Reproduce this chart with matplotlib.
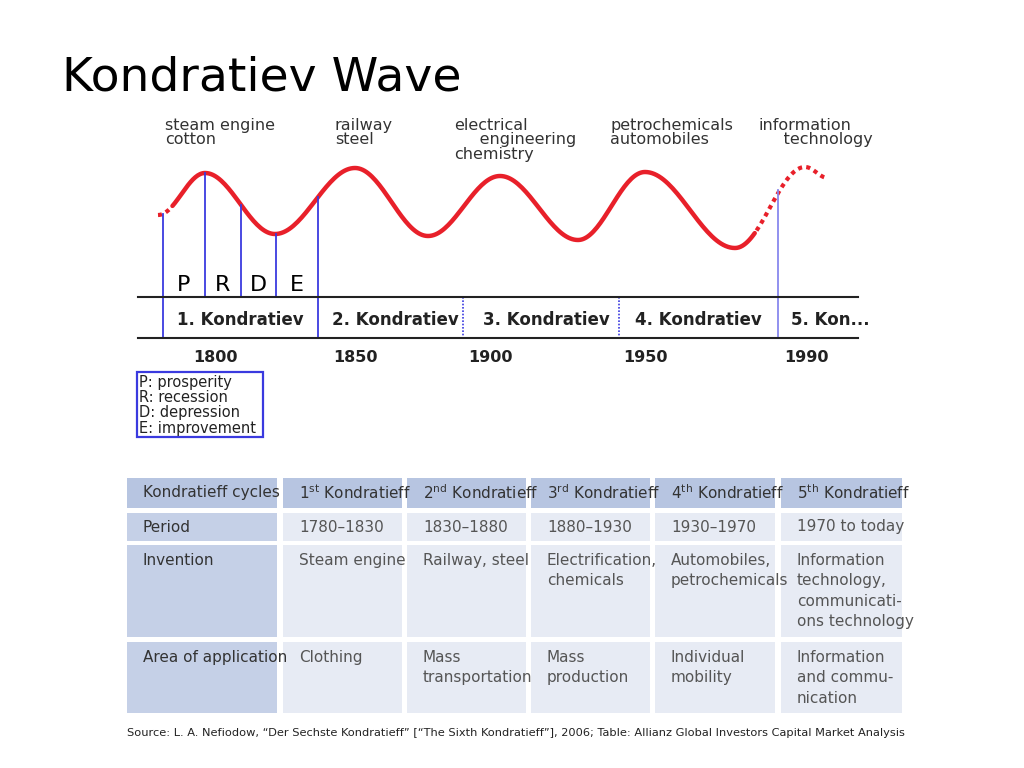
import matplotlib
matplotlib.use("Agg")
import matplotlib.pyplot as plt
import numpy as np
from matplotlib.patches import Rectangle

# ---- data ----
wave_nodes_x = [158, 205, 275, 355, 428, 500, 578, 645, 735, 805, 828]
wave_nodes_y = [215, 173, 234, 168, 236, 176, 240, 172, 248, 167, 178]
phase_lines_x = [163, 205, 241, 276, 318]
phase_letters = ["P", "R", "D", "E"]
cycle_labels = ["1. Kondratiev", "2. Kondratiev", "3. Kondratiev", "4. Kondratiev", "5. Kon..."]
years = ["1800", "1850", "1900", "1950", "1990"]
innovations = ["steam engine\ncotton", "railway\nsteel", "electrical\n     engineering\nchemistry",
               "petrochemicals\nautomobiles", "information\n     technology"]
legend_lines = ["P: prosperity", "R: recession", "D: depression", "E: improvement"]
table_header = ["Kondratieff cycles", "1st Kondratieff", "2nd Kondratieff", "3rd Kondratieff",
                "4th Kondratieff", "5th Kondratieff"]
table_rows = [
    ["Period", "1780–1830", "1830–1880", "1880–1930", "1930–1970", "1970 to today"],
    ["Invention", "Steam engine", "Railway, steel", "Electrification,\nchemicals",
     "Automobiles,\npetrochemicals", "Information\ntechnology,\ncommunicati-\nons technology"],
    ["Area of application", "Clothing", "Mass\ntransportation", "Mass\nproduction",
     "Individual\nmobility", "Information\nand commu-\nnication"],
]

fig = plt.figure(figsize=(10.24, 7.68), dpi=100)
ax = fig.add_axes([0, 0, 1, 1])
ax.set_xlim(0, 1024); ax.set_ylim(768, 0); ax.axis("off")

ax.text(62, 78, "Kondratiev Wave", fontsize=34, va="center", ha="left")

# wave: half-cosine segments between nodes
xs, ys = [], []
for i in range(len(wave_nodes_x) - 1):
    x0, x1 = wave_nodes_x[i], wave_nodes_x[i + 1]
    y0, y1 = wave_nodes_y[i], wave_nodes_y[i + 1]
    t = np.linspace(0, 1, 40)
    xs.append(x0 + (x1 - x0) * t)
    ys.append(y0 + (y1 - y0) * (1 - np.cos(np.pi * t)) / 2)
xs = np.concatenate(xs); ys = np.concatenate(ys)
red = "#e8202a"
m1 = xs < 172; m3 = xs > 755
ax.plot(xs[~m1 & ~m3], ys[~m1 & ~m3], color=red, lw=3.2, solid_capstyle="round")
ax.plot(xs[m1], ys[m1], color=red, lw=3, ls=(0, (1, 1)))
ax.plot(xs[m3], ys[m3], color=red, lw=3, ls=(0, (1, 1)))

blue = "#3a3adf"
for x in phase_lines_x:
    ytop = np.interp(x, xs, ys)
    ax.plot([x, x], [ytop, 297], color=blue, lw=1.3)
for i, L in enumerate(phase_letters):
    ax.text((phase_lines_x[i] + phase_lines_x[i + 1]) / 2, 285, L, fontsize=16,
            ha="center", va="center", color="black")
ax.plot([163, 163], [297, 338], color=blue, lw=1.3)
ax.plot([318, 318], [297, 338], color=blue, lw=1.3)
for x in [463, 619]:
    ax.plot([x, x], [297, 338], color=blue, lw=1.2, ls=(0, (1, 1)))
ax.plot([778, 778], [190, 338], color="#8888ee", lw=1.3)

ax.plot([138, 858], [297, 297], color="#222222", lw=1.5)
ax.plot([138, 858], [338, 338], color="#222222", lw=1.5)

cyc_x = [240, 395, 546, 698, 830]
for x, s in zip(cyc_x, cycle_labels):
    ax.text(x, 320, s, fontsize=12, fontweight="bold", ha="center", va="center", color="#222222")
year_x = [215, 355, 490, 645, 806]
for x, s in zip(year_x, years):
    ax.text(x, 357, s, fontsize=11.5, fontweight="bold", ha="center", va="center", color="#222222")

inn_pos = [(165, 118), (335, 118), (454, 118), (610, 118), (758, 118)]
for (x, y), s in zip(inn_pos, innovations):
    ax.text(x, y, s, fontsize=11.5, ha="left", va="top", color="#333333", linespacing=0.95)

ax.add_patch(Rectangle((137, 372), 126, 65, fill=False, ec=blue, lw=1.6))
for i, s in enumerate(legend_lines):
    ax.text(139, 383 + i * 15, s, fontsize=10.5, va="center", ha="left", color="#222222")

# table
col_edges = [(127, 277), (283, 402), (407, 526), (531, 650), (655, 775), (781, 902)]
row_edges = [(478, 508), (513, 541), (545, 637), (642, 713)]
hdr_c, first_c, body_c = "#b7c5e1", "#c5d0e7", "#e7ebf4"
for r, (y0, y1) in enumerate(row_edges):
    cells = table_header if r == 0 else table_rows[r - 1]
    for c, (x0, x1) in enumerate(col_edges):
        fc = hdr_c if r == 0 else (first_c if c == 0 else body_c)
        ax.add_patch(Rectangle((x0, y0), x1 - x0, y1 - y0, fc=fc, ec="none"))
        txt = cells[c]
        if r == 0 and c > 0:
            n, rest = txt.split(" ", 1)[0], txt.split(" ", 1)[1]
            num, suf = n[0], n[1:]
            txt = "$\\mathregular{" + num + "^{" + suf + "}}$ " + rest
        ax.text(x0 + 16, (y0 + y1) / 2 if r < 2 else y0 + 8, txt, fontsize=11,
                va="center" if r < 2 else "top", ha="left",
                color="#333333" if (r == 0 or c == 0) else "#555555", linespacing=1.45)

ax.text(127, 733, "Source: L. A. Nefiodow, “Der Sechste Kondratieff” [“The Sixth Kondratieff”], 2006; "
        "Table: Allianz Global Investors Capital Market Analysis", fontsize=8.2, va="center",
        ha="left", color="#222222")

fig.savefig("out.png", dpi=100)
